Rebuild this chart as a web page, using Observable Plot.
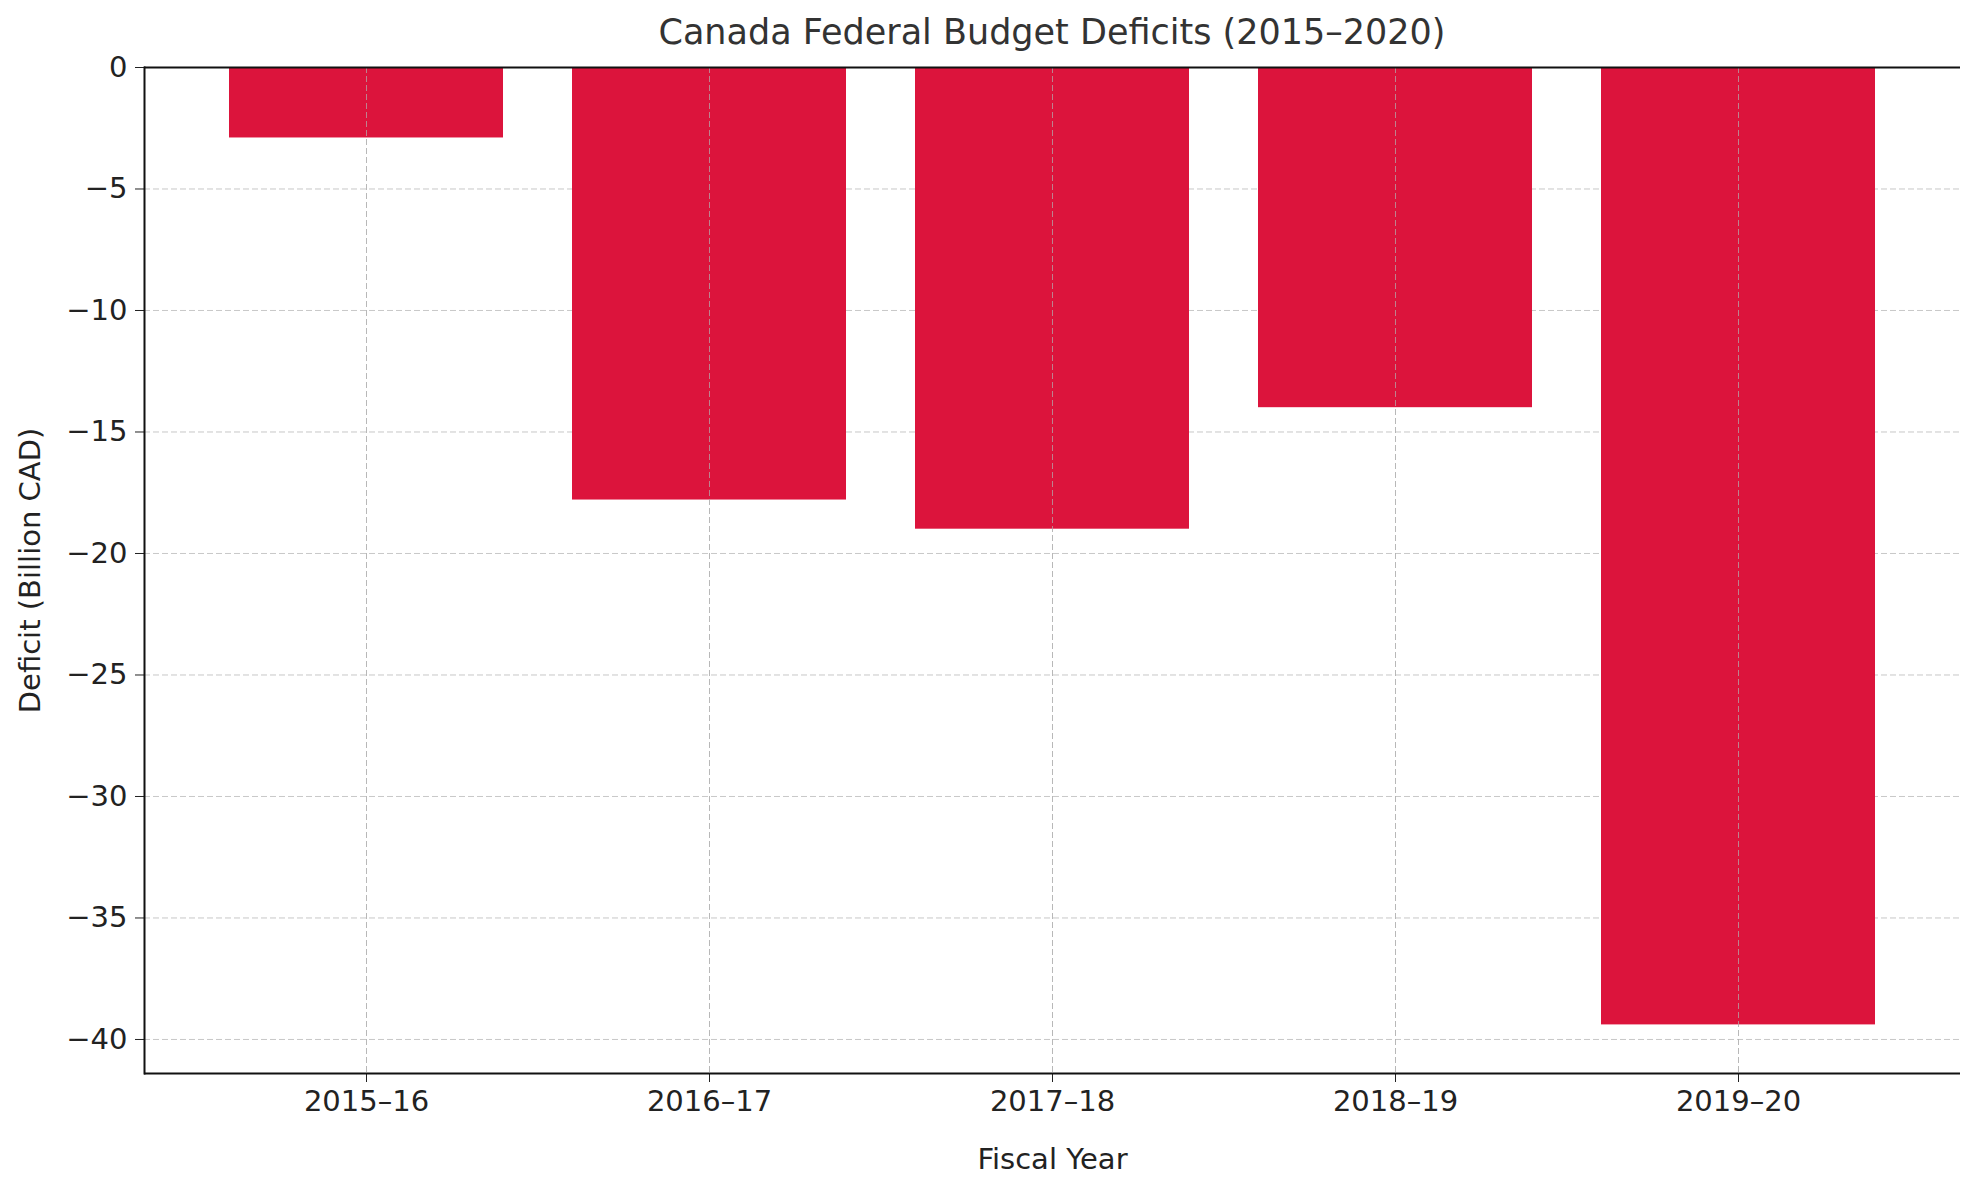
<!DOCTYPE html>
<html><head><meta charset="utf-8">
<script src="https://cdn.jsdelivr.net/npm/d3@7"></script>
<script src="https://cdn.jsdelivr.net/npm/@observablehq/plot@0.6"></script>
<style>
body{margin:0;background:#fff;font-family:"DejaVu Sans",sans-serif;}
#wrap{position:relative;width:1979px;height:1180px;}
#title{position:absolute;top:12px;left:144px;width:1816px;text-align:center;font-size:35px;color:#333;}
</style></head><body>
<div id="wrap"><div id="title">Canada Federal Budget Deficits (2015–2020)</div></div>
<script>
const years = ["2015–16","2016–17","2017–18","2018–19","2019–20"];
const deficits = [-2.9,-17.8,-19.0,-14.0,-39.4];
const yTicks = [0,-5,-10,-15,-20,-25,-30,-35,-40];
const data = years.map((y,i)=>({year:y,value:deficits[i]}));
const chart = Plot.plot({
  width:1979,height:1180,
  marginTop:67,marginLeft:144,marginRight:19,marginBottom:107,
  style:{fontFamily:"DejaVu Sans",fontSize:"29px",color:"#222",background:"white"},
  x:{domain:years,paddingInner:0.2,paddingOuter:0.245,label:"Fiscal Year",labelAnchor:"center",labelOffset:95,tickSize:9,tickPadding:8},
  y:{domain:[-41.4,0],ticks:yTicks,tickFormat:d=>d<0?"−"+Math.abs(d):String(d),label:"Deficit (Billion CAD)",labelAnchor:"center",labelOffset:125,tickSize:9,tickPadding:8},
  marks:[
    Plot.gridY(yTicks,{stroke:"#b0b0b0",strokeOpacity:0.7,strokeDasharray:"6,3"}),
    Plot.gridX(years,{stroke:"#b0b0b0",strokeOpacity:0.7,strokeDasharray:"6,3"}),
    Plot.barY(data,{x:"year",y:"value",fill:"#DC143C"}),
    Plot.gridX(years,{stroke:"#b0b0b0",strokeOpacity:0.7,strokeDasharray:"6,3"}),
    Plot.ruleX([-41.4],{frameAnchor:"left"}),
    Plot.axisY({ticks:yTicks,tickFormat:d=>d<0?"−"+Math.abs(d):String(d),tickSize:9,tickPadding:8,label:"Deficit (Billion CAD)",labelAnchor:"center",labelOffset:125,labelArrow:false}),
    Plot.axisX({tickSize:9,tickPadding:8,label:"Fiscal Year",labelAnchor:"center",labelOffset:95,labelArrow:false}),
    Plot.ruleY([0],{stroke:"#111",strokeWidth:2}),
    Plot.ruleY([-41.4],{stroke:"#111",strokeWidth:2}),
    Plot.frame({anchor:"left",stroke:"#111",strokeWidth:2})
  ]
});
chart.style.position="absolute";chart.style.top="0";chart.style.left="0";
document.getElementById("wrap").prepend(chart);
</script></body></html>
